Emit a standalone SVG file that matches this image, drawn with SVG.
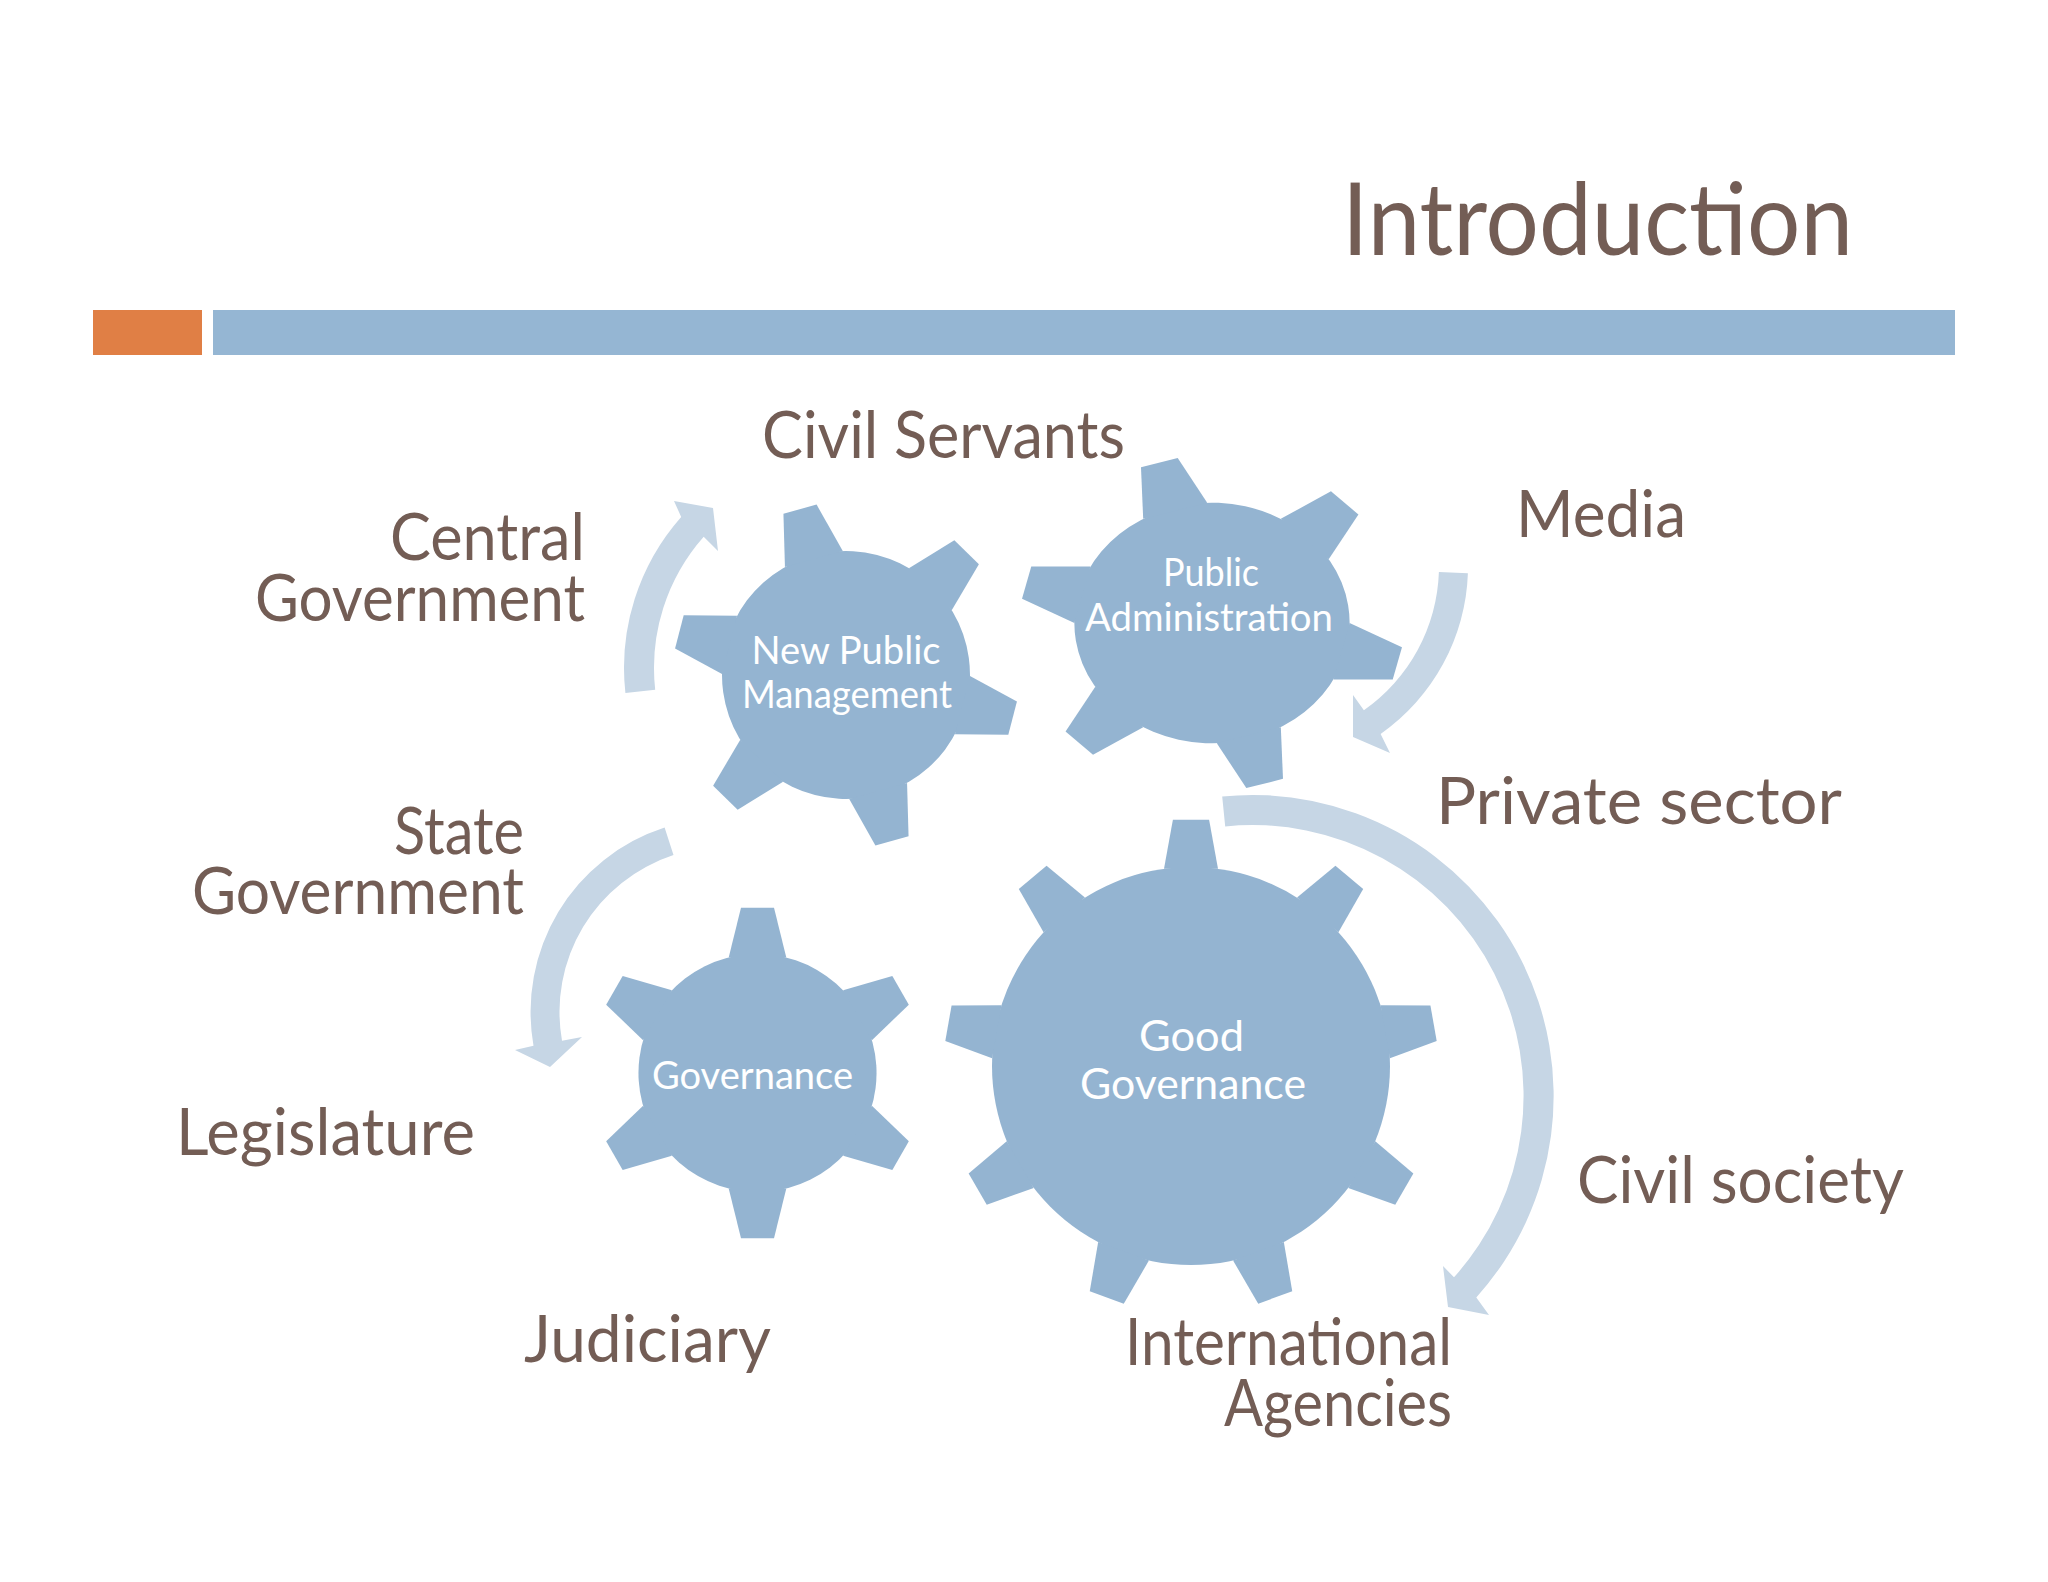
<svg xmlns="http://www.w3.org/2000/svg" xmlns:xlink="http://www.w3.org/1999/xlink" width="2048" height="1582" viewBox="0 0 2048 1582">
<style>
.lbl{font-family:Lato,"Open Sans","Liberation Sans",sans-serif;font-size:66px;fill:#735D55}
.title{font-family:Lato,"Open Sans","Liberation Sans",sans-serif;font-size:100px;fill:#735D55}
.gt{font-family:Lato,"Open Sans","Liberation Sans",sans-serif;font-size:38px;fill:#FFFFFF;text-anchor:middle}
.gt2{font-family:Lato,"Open Sans","Liberation Sans",sans-serif;font-size:42px;fill:#FFFFFF;text-anchor:middle}
.gear{fill:#94B4D1}
.arrow{fill:#C6D6E5}
</style>
<defs>
<path id="t6" d="M120.3,-30 L172.1,-17.2 L172.1,17.2 L120.3,30 Z"/>
<g id="gear6">
<circle r="124"/>
<use xlink:href="#t6"/>
<use xlink:href="#t6" transform="rotate(60)"/>
<use xlink:href="#t6" transform="rotate(120)"/>
<use xlink:href="#t6" transform="rotate(180)"/>
<use xlink:href="#t6" transform="rotate(240)"/>
<use xlink:href="#t6" transform="rotate(300)"/>
</g>
<path id="t9" d="M197.2,-27 L246.3,-18.1 L246.3,18.1 L197.2,27 Z"/>
<g id="gear9">
<circle r="199"/>
<use xlink:href="#t9"/>
<use xlink:href="#t9" transform="rotate(40)"/>
<use xlink:href="#t9" transform="rotate(80)"/>
<use xlink:href="#t9" transform="rotate(120)"/>
<use xlink:href="#t9" transform="rotate(160)"/>
<use xlink:href="#t9" transform="rotate(200)"/>
<use xlink:href="#t9" transform="rotate(240)"/>
<use xlink:href="#t9" transform="rotate(280)"/>
<use xlink:href="#t9" transform="rotate(320)"/>
</g>
</defs>
<rect width="2048" height="1582" fill="#FFFFFF"/>
<g id="header">
<text class="title" x="1342" y="255" textLength="511" lengthAdjust="spacingAndGlyphs">Introduction</text>
<rect x="93" y="310" width="109" height="45" fill="#E07F45"/>
<rect x="213" y="310" width="1742" height="45" fill="#95B6D3"/>
</g>
<g id="connectors">
<path class="arrow" d="M625.4,693 A228,228 0 0 1 681.2,516.9 L674,501 L713,508 L718,551 L703.7,536.8 A198,198 0 0 0 655.2,689.7 Z"/>
<path class="arrow" d="M1467.9,573.2 A205,205 0 0 1 1380.6,733.9 L1390,753 L1353,737 L1353,695 L1363.9,710.2 A176,176 0 0 0 1438.9,572.1 Z"/>
<path class="arrow" d="M664.6,827.5 A194,194 0 0 0 533.5,1045.7 L515,1050 L550,1067 L582,1037 L562,1040.7 A165,165 0 0 1 673.5,855.1 Z"/>
<path class="arrow" d="M1222.2,796.5 A301,301 0 0 1 1476.3,1297.4 L1489,1315 L1448,1307 L1443,1266 L1454,1277.3 A271,271 0 0 0 1225.2,826.4 Z"/>
</g>
<g id="node-npm">
<use xlink:href="#gear6" class="gear" transform="translate(846,675) rotate(14.5)"/>
<text class="gt" x="846" y="664" textLength="189" lengthAdjust="spacingAndGlyphs">New Public</text>
<text class="gt" x="847" y="708" textLength="210" lengthAdjust="spacingAndGlyphs">Management</text>
</g>
<g id="node-pa">
<use xlink:href="#gear6" class="gear" transform="translate(1212,623) scale(1.11,0.97) rotate(14)"/>
<text class="gt" x="1211" y="586" textLength="96" lengthAdjust="spacingAndGlyphs">Public</text>
<text class="gt" x="1209" y="631" textLength="248" lengthAdjust="spacingAndGlyphs">Administration</text>
</g>
<g id="node-governance">
<use xlink:href="#gear6" class="gear" transform="translate(757.5,1073) scale(0.96) rotate(30)"/>
<text class="gt" x="752.5" y="1089" textLength="201" lengthAdjust="spacingAndGlyphs">Governance</text>
</g>
<g id="node-good-governance">
<use xlink:href="#gear9" class="gear" transform="translate(1191,1066) rotate(-90)"/>
<text class="gt2" x="1191.5" y="1051" textLength="105" lengthAdjust="spacingAndGlyphs">Good</text>
<text class="gt2" x="1193" y="1099" textLength="226" lengthAdjust="spacingAndGlyphs">Governance</text>
</g>
<g id="labels">
<text class="lbl" x="762" y="458" textLength="363" lengthAdjust="spacingAndGlyphs">Civil Servants</text>
<text class="lbl" x="390" y="560" textLength="195" lengthAdjust="spacingAndGlyphs">Central</text>
<text class="lbl" x="255" y="621" textLength="330" lengthAdjust="spacingAndGlyphs">Government</text>
<text class="lbl" x="1516" y="537" textLength="170" lengthAdjust="spacingAndGlyphs">Media</text>
<text class="lbl" x="1436" y="824" textLength="406" lengthAdjust="spacingAndGlyphs">Private sector</text>
<text class="lbl" x="394" y="854" textLength="130" lengthAdjust="spacingAndGlyphs">State</text>
<text class="lbl" x="192" y="914" textLength="332" lengthAdjust="spacingAndGlyphs">Government</text>
<text class="lbl" x="176" y="1155" textLength="299" lengthAdjust="spacingAndGlyphs">Legislature</text>
<text class="lbl" x="1577" y="1203" textLength="327" lengthAdjust="spacingAndGlyphs">Civil society</text>
<text class="lbl" x="524" y="1362" textLength="247" lengthAdjust="spacingAndGlyphs">Judiciary</text>
<text class="lbl" x="1125" y="1365" textLength="327" lengthAdjust="spacingAndGlyphs">International</text>
<text class="lbl" x="1224" y="1426" textLength="228" lengthAdjust="spacingAndGlyphs">Agencies</text>
</g>
</svg>
